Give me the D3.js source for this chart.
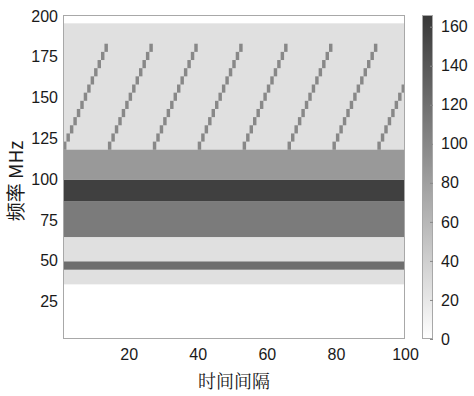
<!DOCTYPE html>
<html><head><meta charset="utf-8">
<script src="https://cdn.jsdelivr.net/npm/d3@7"></script>
<style>body{margin:0;background:#fff}text{font-family:"Liberation Sans",Arial,sans-serif}</style>
</head><body><svg id="c" width="474" height="396"></svg>
<script>
// ---- data ----
const xTicks = [20, 40, 60, 80, 100];
const yTicks = [25, 50, 75, 100, 125, 150, 175, 200];
const cTicks = [0, 20, 40, 60, 80, 100, 120, 140, 160];
// horizontal bands (MHz): low edge, high edge, intensity
const bandLow   = [35.5, 44.5, 64.5, 86.5, 99.5];
const bandHigh  = [195.5, 49.5, 86.5, 99.5, 118];
const bandValue = [26, 121, 110, 159, 85];
// swept (chirp) interference: start time of each sweep, frequency of each step
const chirpStart = [1, 14, 27, 40, 53, 66, 79, 92];
const chirpFreq  = [118, 123, 128, 133, 138, 143, 148, 153, 158, 163, 168, 173, 178];
const chirpValue = 99;
const chirpStepHeight = 5;
const timeMin = 1, timeMax = 100;

// ---- layout ----
const svg = d3.select("#c");
const L = 63, R = 405, T = 15, B = 339;
const x = d3.scaleLinear().domain([timeMin, timeMax]).range([L, R]);
const y = d3.scaleLinear().domain([2, 200.6]).range([B, T]);
const cmax = 166;
const color = d3.scaleLinear().domain([0, cmax]).range(["#ffffff", "#383838"]);

svg.append("defs").append("clipPath").attr("id", "clip")
  .append("rect").attr("x", L).attr("y", T).attr("width", R - L).attr("height", B - T);

const plot = svg.append("g").attr("clip-path", "url(#clip)");
plot.append("rect").attr("x", L).attr("y", T).attr("width", R - L).attr("height", B - T).attr("fill", "#fff");

const bands = bandLow.map((lo, i) => ({lo, hi: bandHigh[i], v: bandValue[i]}));
plot.selectAll("rect.band").data(bands).enter().append("rect").attr("class", "band")
  .attr("x", x(timeMin)).attr("width", x(timeMax) - x(timeMin))
  .attr("y", d => y(d.hi)).attr("height", d => y(d.lo) - y(d.hi))
  .attr("fill", d => color(d.v));

const cells = [];
chirpStart.forEach(s => chirpFreq.forEach((f, k) => {
  const t = s + k;
  if (t < timeMax) cells.push({t, f});
}));
plot.selectAll("rect.chirp").data(cells).enter().append("rect").attr("class", "chirp")
  .attr("x", d => x(d.t)).attr("width", d => x(d.t + 1) - x(d.t))
  .attr("y", d => y(d.f + chirpStepHeight)).attr("height", d => y(d.f) - y(d.f + chirpStepHeight))
  .attr("fill", color(chirpValue));

// box
svg.append("rect").attr("x", L + 0.5).attr("y", T + 0.5).attr("width", R - L - 1).attr("height", B - T - 1)
  .attr("fill", "none").attr("stroke", "#a8a8a8");

// axes
const xa = svg.append("g").attr("transform", `translate(0,${B})`)
  .call(d3.axisBottom(x).tickValues(xTicks).tickSize(0).tickPadding(10));
const ya = svg.append("g").attr("transform", `translate(${L},0)`)
  .call(d3.axisLeft(y).tickValues(yTicks).tickSize(0).tickPadding(5));
[xa, ya].forEach(a => {
  a.select(".domain").remove();
  a.selectAll("text").attr("font-size", 16).attr("fill", "#1a1a1a")
    .attr("font-family", '"Liberation Sans", Arial, sans-serif');
});

// axis titles
svg.append("text").attr("x", (L + R) / 2).attr("y", 388).attr("text-anchor", "middle")
  .attr("font-size", 18).attr("fill", "#1a1a1a")
  .style("font-family", '"Noto Serif CJK SC","Noto Sans CJK SC",sans-serif').text("时间间隔");
svg.append("text").attr("transform", `translate(23,${(T + B) / 2 + 4}) rotate(-90)`)
  .attr("text-anchor", "middle").attr("font-size", 19).attr("fill", "#1a1a1a")
  .style("font-family", '"Noto Sans CJK SC",sans-serif').text("频率 MHz");

// colorbar
const CL = 422, CR = 433;
const cy = d3.scaleLinear().domain([0, cmax]).range([B, T]);
const grad = svg.select("defs").append("linearGradient").attr("id", "g")
  .attr("x1", 0).attr("y1", 1).attr("x2", 0).attr("y2", 0);
grad.append("stop").attr("offset", 0).attr("stop-color", color(0));
grad.append("stop").attr("offset", 1).attr("stop-color", color(cmax));
svg.append("rect").attr("x", CL).attr("y", T).attr("width", CR - CL).attr("height", B - T)
  .attr("fill", "url(#g)");
svg.append("rect").attr("x", CL + 0.5).attr("y", T + 0.5).attr("width", CR - CL - 1).attr("height", B - T - 1)
  .attr("fill", "none").attr("stroke", "#a8a8a8");
const ca = svg.append("g").attr("transform", `translate(${CR},0)`)
  .call(d3.axisRight(cy).tickValues(cTicks).tickSizeInner(-3).tickSizeOuter(0).tickPadding(8));
ca.select(".domain").remove();
ca.selectAll("line").attr("stroke", "#888");
ca.selectAll("text").attr("font-size", 16).attr("fill", "#1a1a1a")
  .attr("font-family", '"Liberation Sans", Arial, sans-serif');
</script></body></html>
